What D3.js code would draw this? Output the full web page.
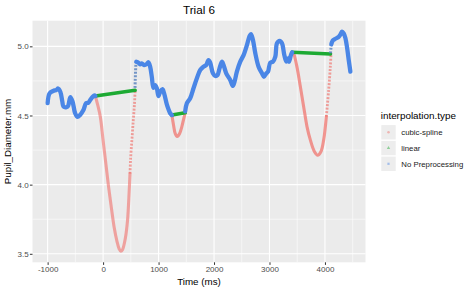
<!DOCTYPE html>
<html>
<head>
<meta charset="utf-8">
<script src="https://cdn.jsdelivr.net/npm/d3@7"></script>
<style>
  body { margin: 0; background: #fff; }
  svg { display: block; font-family: "Liberation Sans", Arial, Helvetica, sans-serif; }
</style>
</head>
<body>
<div id="chart"></div>
<script>
const TITLE = "Trial 6";
const X_LABEL = "Time (ms)";
const Y_LABEL = "Pupil_Diameter.mm";
const X_TICKS = [-1000, 0, 1000, 2000, 3000, 4000];
const Y_TICKS = [3.5, 4.0, 4.5, 5.0];
const LEGEND_TITLE = "interpolation.type";
const CATEGORIES = ["cubic-spline", "linear", "No Preprocessing"];

// No Preprocessing: [time ms, diameter mm]
const raw1 = [[-1000, 4.589], [-965, 4.66], [-900, 4.677], [-840, 4.685], [-810, 4.695], [-770, 4.67],
  [-735, 4.60], [-715, 4.565], [-660, 4.56], [-630, 4.57], [-590, 4.632], [-550, 4.60], [-505, 4.517],
  [-463, 4.49], [-415, 4.504], [-355, 4.54], [-307, 4.589], [-265, 4.593], [-235, 4.61], [-187, 4.636],
  [-157, 4.646], [-140, 4.641]];
const rawRise1 = [[575, 4.70], [580, 4.76], [585, 4.82], [590, 4.86], [598, 4.889]];
const raw2 = [[598, 4.889], [637, 4.882], [668, 4.87], [698, 4.877], [740, 4.865], [788, 4.872],
  [818, 4.885], [848, 4.853], [878, 4.78], [907, 4.70], [938, 4.72], [969, 4.697], [998, 4.64],
  [1029, 4.672], [1070, 4.69], [1100, 4.66], [1149, 4.58], [1179, 4.545], [1209, 4.516], [1240, 4.503]];
const raw3 = [[1480, 4.53], [1511, 4.589], [1570, 4.625], [1630, 4.697], [1691, 4.769], [1751, 4.829],
  [1811, 4.853], [1859, 4.865], [1901, 4.901], [1931, 4.882], [1980, 4.805], [2022, 4.786], [2063, 4.793],
  [2099, 4.841], [2143, 4.889], [2172, 4.865], [2220, 4.805], [2292, 4.757], [2340, 4.714], [2370, 4.745],
  [2412, 4.817], [2473, 4.889], [2533, 4.937], [2593, 5.009], [2640, 5.074], [2666, 5.089], [2702, 5.045],
  [2744, 4.95], [2803, 4.853], [2864, 4.805], [2900, 4.78], [2942, 4.805], [2973, 4.817], [3014, 4.882],
  [3062, 4.889], [3105, 4.925], [3135, 5.022], [3183, 5.04], [3225, 5.022], [3267, 4.937], [3303, 4.889],
  [3333, 4.913], [3351, 4.889], [3387, 4.937], [3410, 4.957]];
const rawRise4 = [[4100, 4.95], [4108, 4.99], [4115, 5.015]];
const raw4 = [[4115, 5.015], [4127, 5.03], [4150, 5.045], [4188, 5.055], [4248, 5.068], [4278, 5.085],
  [4308, 5.106], [4338, 5.094], [4368, 5.06], [4399, 4.99], [4429, 4.9], [4458, 4.817]];

// linear interpolation across the gaps
const linear1 = [[-140, 4.641], [578, 4.682]];
const linear2 = [[1240, 4.503], [1480, 4.52]];
const linear3 = [[3410, 4.957], [4100, 4.945]];

// cubic-spline interpolation across the gaps
const spline1 = [[-140, 4.641], [-100, 4.58], [-50, 4.49], [0, 4.32], [50, 4.15], [100, 3.98], [150, 3.83],
  [200, 3.69], [250, 3.59], [290, 3.535], [320, 3.518], [350, 3.53], [400, 3.61], [440, 3.74], [470, 3.95],
  [485, 4.08]];
const spline1Tail = [[485, 4.08], [495, 4.18], [520, 4.33], [545, 4.47], [565, 4.58], [578, 4.682]];
const spline2 = [[1240, 4.503], [1270, 4.43], [1300, 4.37], [1335, 4.348], [1380, 4.37], [1420, 4.42],
  [1450, 4.47], [1480, 4.52]];
const spline3 = [[3410, 4.957], [3433, 4.95], [3494, 4.853], [3556, 4.709], [3616, 4.564], [3676, 4.42],
  [3736, 4.324], [3809, 4.24], [3868, 4.213], [3929, 4.24], [3977, 4.324], [4025, 4.492]];
const spline3Tail = [[4025, 4.492], [4067, 4.685], [4097, 4.853], [4110, 4.95]];

const colors = { spline: "#F0706A", linear: "#1DAA33", raw: "#4A86E6" };

const W = 474, H = 292;
const panel = { left: 32.5, right: 365.5, top: 20.7, bottom: 262.3 };

const svg = d3.select("#chart").append("svg")
  .attr("width", W)
  .attr("height", H);

svg.append("rect").attr("width", W).attr("height", H).attr("fill", "#fff");

const allPts = [].concat(raw1, raw2, raw3, raw4, spline1, spline1Tail, spline2, spline3, spline3Tail);
const xExt = d3.extent(allPts, d => d[0]);
const yExt = d3.extent(allPts, d => d[1]);
const xPad = (xExt[1] - xExt[0]) * 0.05;
const yPad = (yExt[1] - yExt[0]) * 0.05;

const x = d3.scaleLinear()
  .domain([xExt[0] - xPad, xExt[1] + xPad])
  .range([panel.left, panel.right]);
const y = d3.scaleLinear()
  .domain([yExt[0] - yPad, yExt[1] + yPad])
  .range([panel.bottom, panel.top]);

// panel background + grid
svg.append("rect")
  .attr("x", panel.left).attr("y", panel.top)
  .attr("width", panel.right - panel.left)
  .attr("height", panel.bottom - panel.top)
  .attr("fill", "#EBEBEB");

const xStep = X_TICKS[1] - X_TICKS[0];
const yStep = Y_TICKS[1] - Y_TICKS[0];
const xMinor = d3.range(X_TICKS[0] - xStep / 2, x.domain()[1], xStep).filter(v => v > x.domain()[0]);
const yMinor = d3.range(Y_TICKS[0] - yStep / 2, y.domain()[1], yStep).filter(v => v > y.domain()[0]);

const grid = svg.append("g");
grid.selectAll(".xminor").data(xMinor).enter().append("line")
  .attr("x1", d => x(d)).attr("x2", d => x(d))
  .attr("y1", panel.top).attr("y2", panel.bottom)
  .attr("stroke", "#fff").attr("stroke-width", 0.55);
grid.selectAll(".yminor").data(yMinor).enter().append("line")
  .attr("y1", d => y(d)).attr("y2", d => y(d))
  .attr("x1", panel.left).attr("x2", panel.right)
  .attr("stroke", "#fff").attr("stroke-width", 0.55);
grid.selectAll(".xmajor").data(X_TICKS).enter().append("line")
  .attr("x1", d => x(d)).attr("x2", d => x(d))
  .attr("y1", panel.top).attr("y2", panel.bottom)
  .attr("stroke", "#fff").attr("stroke-width", 1.1);
grid.selectAll(".ymajor").data(Y_TICKS).enter().append("line")
  .attr("y1", d => y(d)).attr("y2", d => y(d))
  .attr("x1", panel.left).attr("x2", panel.right)
  .attr("stroke", "#fff").attr("stroke-width", 1.1);

// series
const smooth = d3.line().x(d => x(d[0])).y(d => y(d[1])).curve(d3.curveCatmullRom.alpha(0.5));
const straight = d3.line().x(d => x(d[0])).y(d => y(d[1]));

const marks = svg.append("g").attr("fill", "none")
  .attr("stroke-linecap", "round").attr("stroke-linejoin", "round");

[spline1, spline2, spline3].forEach((s, i) => {
  marks.append("path").attr("d", smooth(s))
    .attr("stroke", colors.spline).attr("stroke-opacity", i === 0 ? 0.6 : 0.72).attr("stroke-width", 3.1);
});
[spline1Tail, spline3Tail].forEach(s => {
  marks.append("path").attr("d", smooth(s))
    .attr("stroke", colors.spline).attr("stroke-opacity", 0.65).attr("stroke-width", 2.8)
    .attr("stroke-dasharray", "2,1.5").attr("stroke-linecap", "butt");
});
[linear1, linear2, linear3].forEach(s => {
  marks.append("path").attr("d", straight(s))
    .attr("stroke", colors.linear).attr("stroke-width", 3.6);
});
[rawRise1, rawRise4].forEach(s => {
  marks.append("path").attr("d", smooth(s))
    .attr("stroke", "#5E86BF").attr("stroke-opacity", 0.85).attr("stroke-width", 3)
    .attr("stroke-dasharray", "2,1.5").attr("stroke-linecap", "butt");
});
[raw1, raw2, raw3, raw4].forEach(s => {
  marks.append("path").attr("d", smooth(s))
    .attr("stroke", colors.raw).attr("stroke-width", 4.3);
});

// axes
const xAxis = svg.append("g")
  .attr("transform", `translate(0,${panel.bottom})`)
  .call(d3.axisBottom(x).tickValues(X_TICKS).tickSize(2.6).tickPadding(1.9).tickFormat(d => String(d)));
const yAxis = svg.append("g")
  .attr("transform", `translate(${panel.left},0)`)
  .call(d3.axisLeft(y).tickValues(Y_TICKS).tickSize(2.6).tickPadding(1.2).tickFormat(d3.format(".1f")));

[xAxis, yAxis].forEach(a => {
  a.select(".domain").remove();
  a.selectAll(".tick line").attr("stroke", "#333").attr("stroke-width", 1);
  a.selectAll(".tick text")
    .attr("fill", "#4D4D4D")
    .style("font-size", "8px")
    .style("font-family", "'Liberation Sans', Arial, sans-serif");
});

// titles
svg.append("text")
  .attr("x", (panel.left + panel.right) / 2).attr("y", 13.5)
  .attr("text-anchor", "middle")
  .style("font-size", "11.7px")
  .text(TITLE);

svg.append("text")
  .attr("x", (panel.left + panel.right) / 2).attr("y", 284.5)
  .attr("text-anchor", "middle")
  .style("font-size", "9.8px")
  .text(X_LABEL);

svg.append("text")
  .attr("transform", `translate(11,${(panel.top + panel.bottom) / 2}) rotate(-90)`)
  .attr("text-anchor", "middle")
  .style("font-size", "9.8px")
  .text(Y_LABEL);

// legend
const legend = svg.append("g").attr("transform", "translate(380.7,0)");
legend.append("text")
  .attr("x", 0).attr("y", 119)
  .style("font-size", "9.9px")
  .text(LEGEND_TITLE);

const keyColors = [colors.spline, colors.linear, colors.raw];
const keyShapes = [d3.symbolCircle, d3.symbolTriangle, d3.symbolSquare];
const keys = legend.selectAll(".key").data(CATEGORIES).enter().append("g")
  .attr("transform", (d, i) => `translate(0.6,${125.1 + i * 15.75})`);
keys.append("rect")
  .attr("width", 14.4).attr("height", 14.4)
  .attr("fill", "#EDEDED");
keys.append("path")
  .attr("transform", "translate(7.2,7.2)")
  .attr("d", (d, i) => d3.symbol().type(keyShapes[i]).size(5)())
  .attr("fill", (d, i) => keyColors[i])
  .attr("fill-opacity", 0.45);
keys.append("text")
  .attr("x", 20).attr("y", 7.2)
  .attr("dy", "0.35em")
  .style("font-size", "7.8px")
  .attr("fill", "#1a1a1a")
  .text(d => d);
</script>
</body>
</html>
